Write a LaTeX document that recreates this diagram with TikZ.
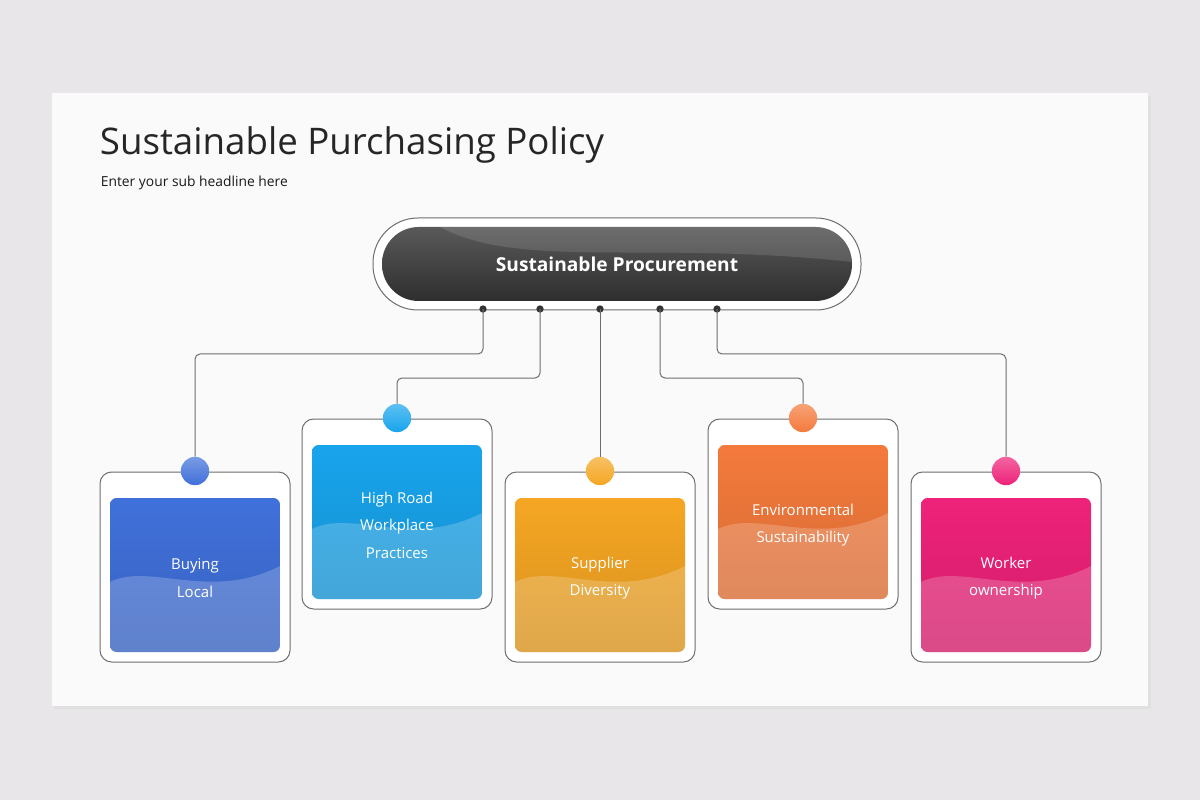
\documentclass[tikz,border=0pt]{standalone}
\usepackage{fontspec}
\setmainfont{Open Sans}
\usetikzlibrary{calc}
\definecolor{pageBg}{HTML}{E8E6E8}
\definecolor{lineGray}{HTML}{6E6E6E}
\definecolor{cBlue}{HTML}{4070DA}
\definecolor{cCyan}{HTML}{18A4EC}
\definecolor{cYellow}{HTML}{F5A623}
\definecolor{cOrange}{HTML}{F47A3C}
\definecolor{cPink}{HTML}{EE2279}
\tikzset{
  frame/.style={draw=lineGray, line width=0.6pt, fill=white, rounded corners=7pt},
  link/.style={draw=lineGray, line width=0.6pt},
  knob/.style={circle, minimum size=17pt, inner sep=0pt},
  label/.style={text=white, font=\fontsize{9}{16.5}\selectfont, align=center},
}
\newcommand{\card}[5]{% name, x-left, y-top, colour, text
  \draw[frame] (#2,#3) rectangle ++(190,190);
  \begin{scope}
    \clip[rounded corners=4pt] (#2+10,#3+26) rectangle ++(170,154);
    \shade[top color=#4, bottom color=#4!88!black] (#2+10,#3+26) rectangle ++(170,154);
    \fill[white, opacity=0.2] (#2+10,#3+110) .. controls (#2+50,#3+90) and (#2+110,#3+130) .. (#2+180,#3+94) -- (#2+180,#3+180) -- (#2+10,#3+180) -- cycle;
  \end{scope}
  \node[label] (#1) at (#2+95,#3+106) {#5};
  \node[knob, shade, top color=#4!70!white, bottom color=#4] (#1k) at (#2+95,#3-1) {};
}
\begin{document}
\begin{tikzpicture}[x=0.6pt, y=-0.6pt]
  \fill[pageBg] (0,0) rectangle (1200,800);
  \useasboundingbox (0,0) rectangle (1200,800);
  \fill[black!12] (54,96) rectangle (1151,709);
  \fill[white!98!black] (52,93) rectangle (1148,706);

  % title
  \node[anchor=base west, font=\fontsize{22}{26}\selectfont, text=black!85] (title) at (94,155) {Sustainable Purchasing Policy};
  \node[anchor=base west, font=\fontsize{8.3}{10}\selectfont, text=black!90] (sub) at (95,187) {Enter your sub headline here};

  % top pill
  \draw[link, fill=white, rounded corners=27pt] (373,218) rectangle (861,310);
  \shade[top color=black!65, bottom color=black!82, rounded corners=22pt] (382,227) rectangle (852,301);
  \begin{scope}
    \clip[rounded corners=22pt] (382,227) rectangle (852,301);
    \fill[white, opacity=0.12] (440,227) .. controls (520,270) and (650,240) .. (852,262) -- (852,227) -- cycle;
  \end{scope}
  \node[text=white, font=\bfseries\fontsize{11.5}{14}\selectfont] (proc) at (617,264) {Sustainable Procurement};

  % cards
  \card{buy}{100}{472}{cBlue}{Buying\\Local}
  \card{road}{302}{419}{cCyan}{High Road\\Workplace\\Practices}
  \card{supp}{505}{472}{cYellow}{Supplier\\Diversity}
  \card{env}{708}{419}{cOrange}{Environmental\\Sustainability}
  \card{work}{911}{472}{cPink}{Worker\\ownership}

  % connectors
  \foreach \n/\x in {p1/483,p2/540,p3/600,p4/660,p5/717}
    \fill[black!80] (\x,309) circle (2.2pt) coordinate (\n);
  \draw[link, rounded corners=3pt] (p1) -- ++(0,45) -| (buyk);
  \draw[link, rounded corners=3pt] (p2) -- ++(0,69) -| (roadk);
  \draw[link] (p3) -- (suppk);
  \draw[link, rounded corners=3pt] (p4) -- ++(0,69) -| (envk);
  \draw[link, rounded corners=3pt] (p5) -- ++(0,45) -| (workk);
\end{tikzpicture}
\end{document}
